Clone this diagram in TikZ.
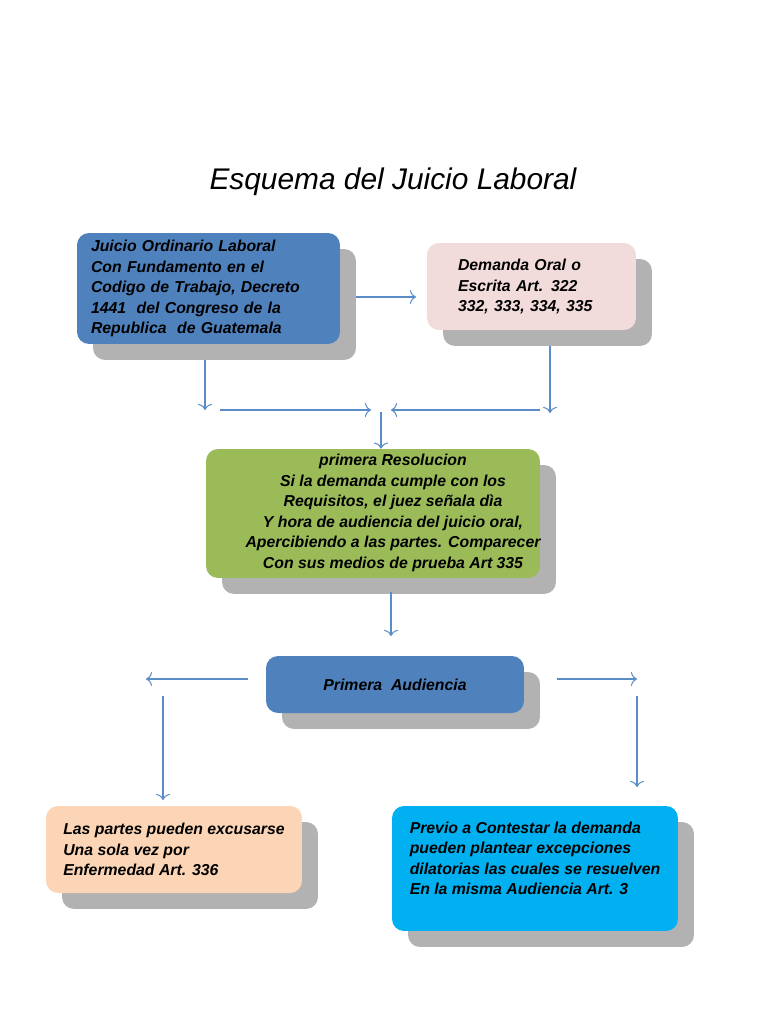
\documentclass[tikz,border=0pt]{standalone}
\usepackage{fontspec}
\setmainfont{Liberation Sans}
\usetikzlibrary{shadows,arrows.meta}
\hyphenpenalty=10000
\definecolor{azul}{HTML}{4F81BD}
\definecolor{rosa}{HTML}{F2DCDB}
\definecolor{verde}{HTML}{9BBB59}
\definecolor{durazno}{HTML}{FBD5B5}
\definecolor{celeste}{HTML}{00B0F0}
\definecolor{sombra}{HTML}{B2B2B2}
\definecolor{linea}{HTML}{5B8CC8}
\tikzset{
  caja/.style={rounded corners=0.24cm, inner ysep=2pt, drop shadow={shadow xshift=0.32cm, shadow yshift=-0.32cm, fill=sombra, opacity=1}},
  letra/.style={font=\fontsize{9}{11.7}\selectfont\bfseries\itshape},
  flecha/.style={draw=linea, line width=0.6pt, -{To[length=3.5pt,width=8pt]}}
}
\begin{document}
\begin{tikzpicture}[x=0.02cm, y=-0.02cm]
    \useasboundingbox (0,0) rectangle (768,1024);

    \node[font=\fontsize{17}{20}\selectfont\itshape] (titulo) at (393,182) {Esquema del Juicio Laboral};

    \node[caja, letra, fill=azul, text width=4.7cm, inner xsep=0.28cm, minimum height=2.22cm, align=left] (juicio) at (208.5,288.5)
      {Juicio Ordinario Laboral\\Con Fundamento en el\\Codigo de Trabajo, Decreto\\1441\ \ del Congreso de la\\Republica\ \ de Guatemala};
    \node[caja, letra, fill=rosa, text width=2.94cm, inner xsep=0.62cm, minimum height=1.74cm, align=left] (demanda) at (531.5,286.5)
      {Demanda Oral o\\Escrita Art. 322\\332, 333, 334, 335};
    \node[caja, fill=verde, minimum width=6.68cm, minimum height=2.58cm] (resolucion) at (373,513.5) {};
    \node[letra, align=center] (resoltxt) at (393,513)
      {primera Resolucion\\Si la demanda cumple con los\\Requisitos, el juez señala dìa\\Y hora de audiencia del juicio oral,\\Apercibiendo a las partes. Comparecer\\Con sus medios de prueba Art 335};
    \node[caja, letra, fill=azul, minimum width=5.16cm, minimum height=1.14cm] (audiencia) at (395,684.5) {Primera\ \ Audiencia};
    \node[caja, letra, fill=durazno, minimum width=5.12cm, minimum height=1.74cm, align=left] (excusa) at (174,849.5)
      {Las partes pueden excusarse\\Una sola vez por\\Enfermedad Art. 336};
    \node[caja, letra, fill=celeste, minimum width=5.72cm, minimum height=2.5cm, align=left] (previo) at (535,868.5)
      {Previo a Contestar la demanda\\pueden plantear excepciones\\dilatorias las cuales se resuelven\\En la misma Audiencia Art. 3\\[0pt]};

    \coordinate (j1) at (356,297);  \coordinate (j2) at (416,297);
    \coordinate (j3) at (205,360);  \coordinate (j4) at (205,410);
    \coordinate (j5) at (220,410);  \coordinate (j6) at (371,410);
    \coordinate (d1) at (550,346);  \coordinate (d2) at (550,413);
    \coordinate (d3) at (540,410);  \coordinate (d4) at (391,410);
    \coordinate (m1) at (381,412);
    \coordinate (r1) at (391,592);  \coordinate (r2) at (391,636);
    \coordinate (p1) at (248,679);  \coordinate (p2) at (146,679);
    \coordinate (p3) at (557,679);  \coordinate (p4) at (637,679);
    \coordinate (e1) at (163,696);  \coordinate (e2) at (163,800);
    \coordinate (v1) at (637,696);  \coordinate (v2) at (637,787);

    \draw[flecha] (j1) -- (j2);
    \draw[flecha] (j3) -- (j4);
    \draw[flecha] (j5) -- (j6);
    \draw[flecha] (d1) -- (d2);
    \draw[flecha] (d3) -- (d4);
    \draw[flecha] (m1) -- (resolucion.north -| m1);
    \draw[flecha] (r1) -- (r2);
    \draw[flecha] (p1) -- (p2);
    \draw[flecha] (p3) -- (p4);
    \draw[flecha] (e1) -- (e2);
    \draw[flecha] (v1) -- (v2);

\end{tikzpicture}
\end{document}
